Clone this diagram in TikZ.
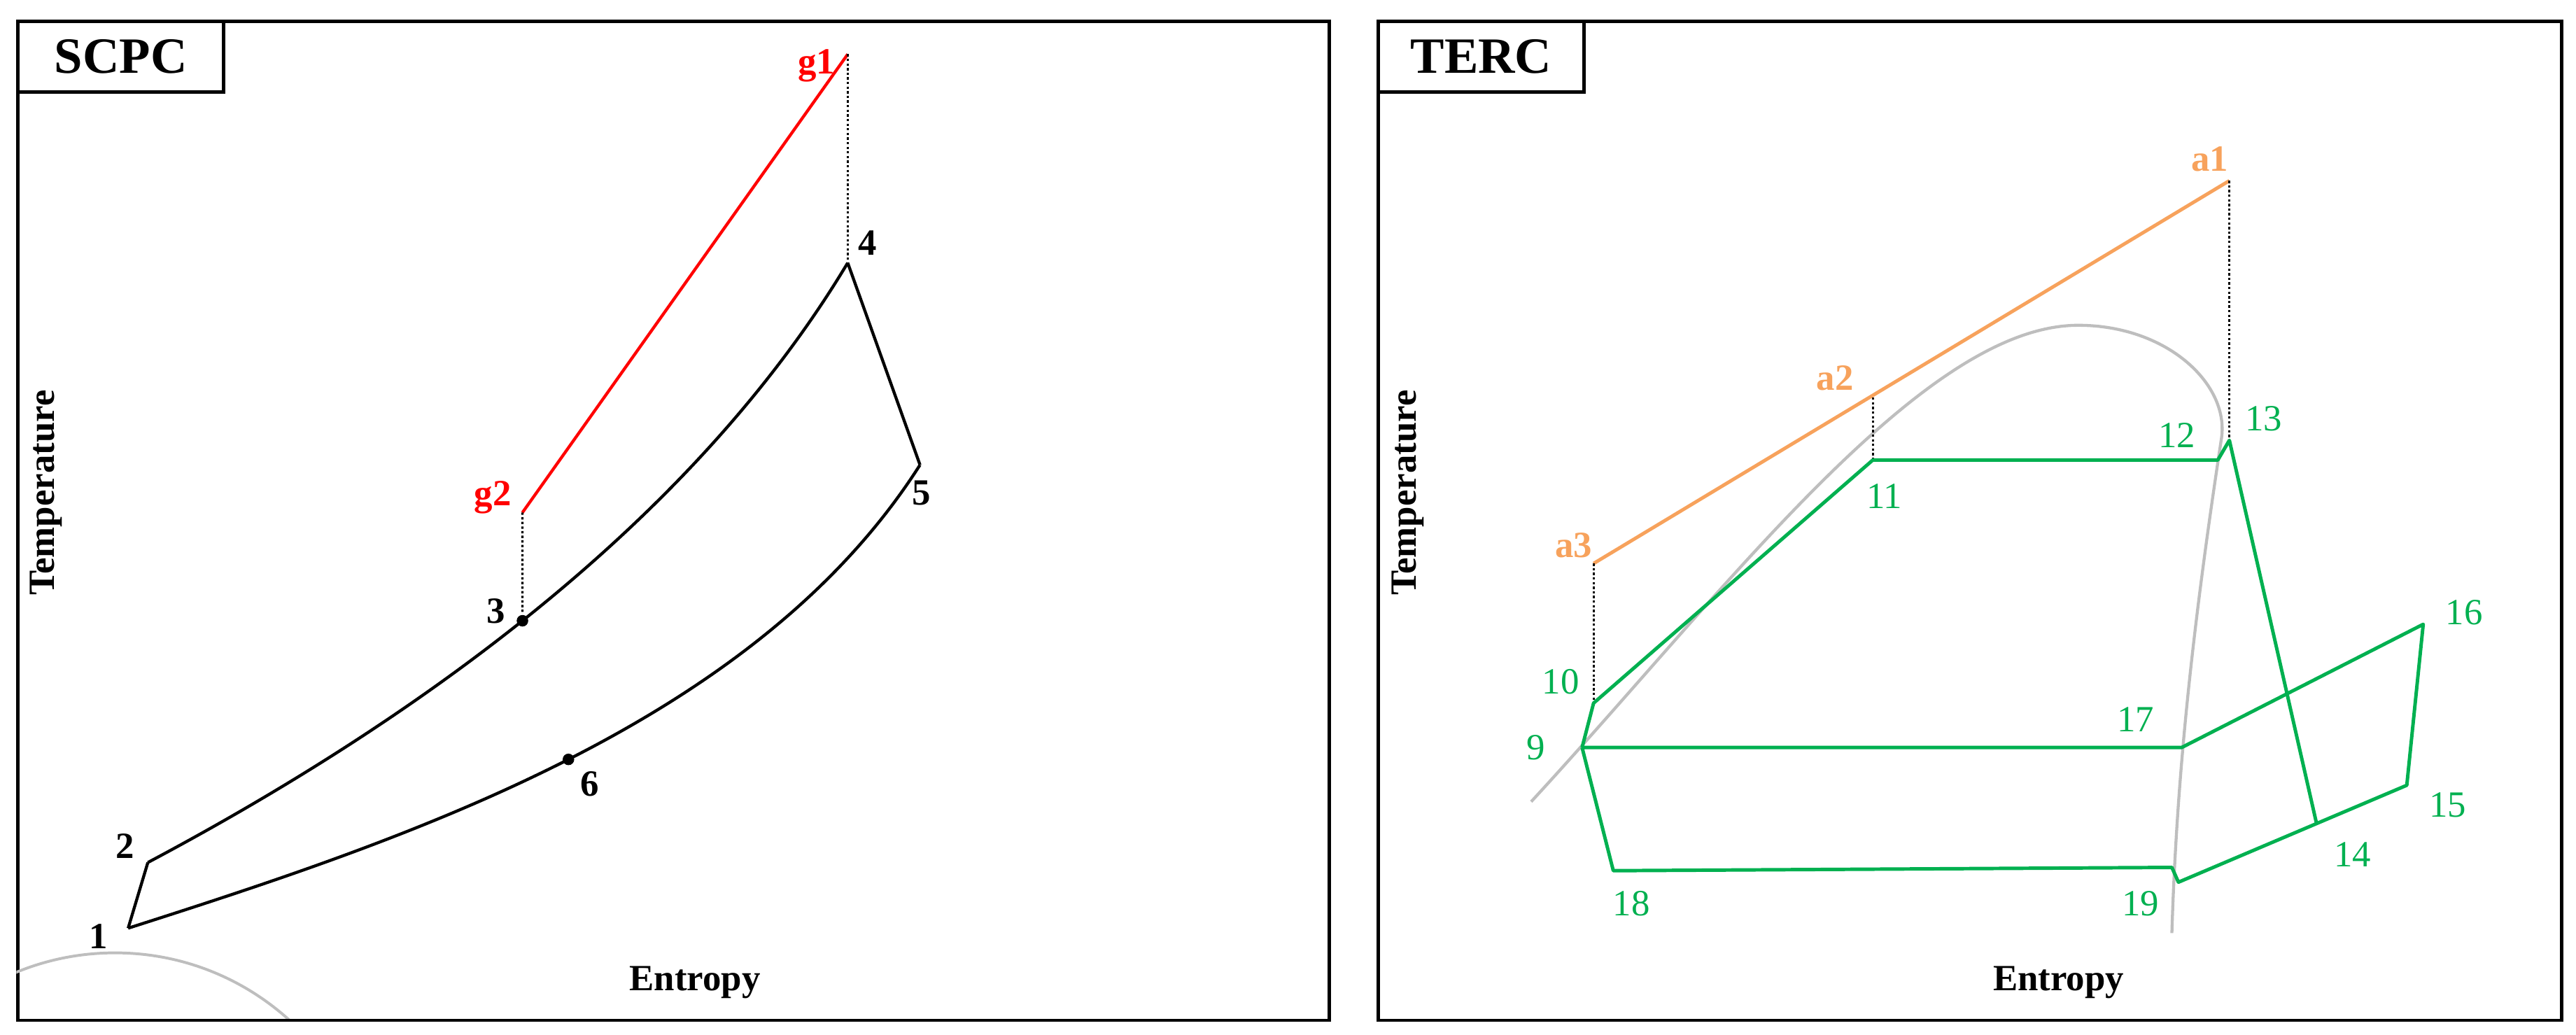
\documentclass[tikz,border=0pt]{standalone}
\usepackage{fontspec}
\setmainfont{Liberation Serif}
\definecolor{tgreen}{RGB}{0,176,80}
\definecolor{torange}{RGB}{247,162,92}
\definecolor{tgray}{RGB}{190,190,190}
\begin{document}
\begin{tikzpicture}[x=0.025cm,y=-0.025cm,
  lbl/.style={font=\fontsize{16}{18}\selectfont\bfseries},
  glbl/.style={font=\fontsize{16}{18}\selectfont,text=tgreen},
  olbl/.style={font=\fontsize{16}{18}\selectfont\bfseries,text=torange},
  title/.style={draw,line width=1.5pt,font=\fontsize{22}{24}\selectfont\bfseries,anchor=north west,inner sep=4pt,minimum height=43*0.025cm,minimum width=125*0.025cm},
  frame/.style={draw,line width=1.5pt},
  dot/.style={circle,fill,inner sep=0pt,minimum size=5pt}]
\useasboundingbox (0,0) rectangle (1568,630);
% left panel
\node[frame,minimum width=798*0.025cm,minimum height=608*0.025cm,anchor=north west] (L) at (10,12) {};
\begin{scope}
\clip (10,12) rectangle (808,620);
\draw[tgray,line width=1.2pt] (70,738) circle (158);
\end{scope}
\node[title] (tl) at (10,12) {SCPC};
\coordinate (p1) at (78,565); \coordinate (p2) at (90,525);
\coordinate (p4) at (516,160); \coordinate (p5) at (560,283);
\coordinate (g1) at (516,33); \coordinate (g2) at (318,312);
\draw[line width=1.3pt] (p2) .. controls (250,440) and (420,320) .. (p4) node[pos=0.48,dot] (p3) {};
\draw[line width=1.3pt] (p1) .. controls (250,510) and (460,440) .. (p5) node[pos=0.5,dot] (p6) {};
\draw[line width=1.3pt] (p2)--(p1); \draw[line width=1.3pt] (p4)--(p5);
\draw[red,line width=1.3pt] (g2)--(g1);
\draw[densely dotted,line width=1pt] (g1)--(p4); \draw[densely dotted,line width=1pt] (g2)--(p3);
\node[lbl] at (60,570) {1}; \node[lbl] at (76,515) {2}; \node[lbl] at (302,372) {3};
\node[lbl] at (528,148) {4}; \node[lbl] at (561,300) {5}; \node[lbl] at (359,477) {6};
\node[lbl,text=red] at (497,40) {g1}; \node[lbl,text=red] at (300,303) {g2};
\node[lbl,rotate=90] at (28,300) {Temperature};
\node[lbl] at (423,598) {Entropy};
% right panel
\node[frame,minimum width=720*0.025cm,minimum height=608*0.025cm,anchor=north west] (R) at (838,12) {};
\node[title] (tr) at (838,12) {TERC};
\draw[tgray,line width=1.3pt] (932,488) .. controls (1050,360) and (1170,198) .. (1265,198) .. controls (1320,198) and (1358,235) .. (1352,268) .. controls (1335,380) and (1325,470) .. (1322,568);
\coordinate (a1) at (1357,110); \coordinate (a2) at (1140,242); \coordinate (a3) at (970,343);
\coordinate (n9) at (963,455); \coordinate (n10) at (970,428); \coordinate (n11) at (1140,280);
\coordinate (n12) at (1350,280); \coordinate (n13) at (1357,268); \coordinate (n14) at (1410,501);
\coordinate (n15) at (1465,478); \coordinate (n16) at (1475,380); \coordinate (n17) at (1328,455);
\coordinate (n18) at (982,530); \coordinate (n19) at (1322,528); \coordinate (n19b) at (1326,537);
\draw[torange,line width=1.5pt] (a3)--(a1);
\draw[densely dotted,line width=1pt] (a1)--(n13) (a2)--(n11) (a3)--(n10);
\draw[tgreen,line width=1.5pt,line join=round] (n9)--(n10)--(n11)--(n12)--(n13)--(n14);
\draw[tgreen,line width=1.5pt,line join=round] (n9)--(n17)--(n16)--(n15)--(n19b)--(n19)--(n18)--(n9);
\node[glbl] at (935,455) {9}; \node[glbl] at (950,415) {10}; \node[glbl] at (1147,302) {11};
\node[glbl] at (1325,265) {12}; \node[glbl] at (1378,255) {13}; \node[glbl] at (1432,520) {14};
\node[glbl] at (1490,490) {15}; \node[glbl] at (1500,373) {16}; \node[glbl] at (1300,438) {17};
\node[glbl] at (993,550) {18}; \node[glbl] at (1303,550) {19};
\node[olbl] at (1345,97) {a1}; \node[olbl] at (1117,230) {a2}; \node[olbl] at (958,332) {a3};
\node[lbl,rotate=90] at (857,300) {Temperature};
\node[lbl] at (1253,598) {Entropy};
\end{tikzpicture}
\end{document}
